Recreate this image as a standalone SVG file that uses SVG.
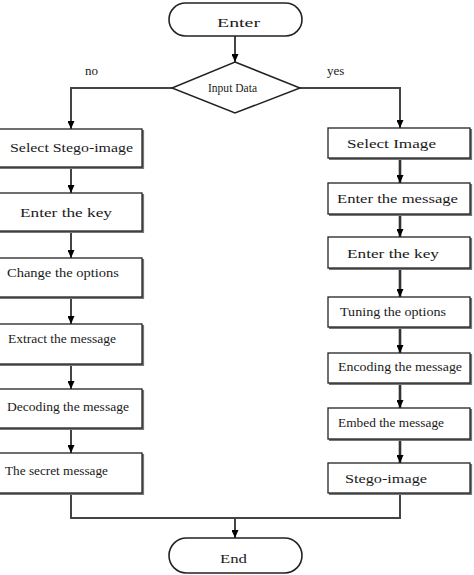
<svg xmlns="http://www.w3.org/2000/svg" width="474" height="575" viewBox="0 0 474 575">
<defs>
<marker id="ah" markerUnits="userSpaceOnUse" markerWidth="8" markerHeight="7" refX="8" refY="3.5" orient="auto">
<path d="M0,0 L8,3.5 L0,7 Z" fill="#000"/>
</marker>
<style>
.box{fill:#fff;stroke:#222;stroke-width:1.3}
.shd{fill:none;stroke:#777;stroke-width:2.2}
.term{fill:#fff;stroke:#222;stroke-width:1.6}
.t{font-family:"Liberation Serif","Times New Roman",serif;fill:#1a1a1a;font-size:13px}
.c{fill:none;stroke:#444;stroke-width:2}
.cr{fill:none;stroke:#333;stroke-width:2.6}
.ca{marker-end:url(#ah)}
</style>
</defs>
<g id="connectors">
<line class="c ca" x1="235" y1="36" x2="235" y2="62"/>
<polyline class="c ca" points="172,88 71,88 71,129"/>
<polyline class="c ca" points="300,88 400,88 400,128"/>
<line class="c ca" x1="71" y1="168" x2="71" y2="193"/>
<line class="c ca" x1="71" y1="232" x2="71" y2="258"/>
<line class="c ca" x1="71" y1="298" x2="71" y2="324"/>
<line class="c ca" x1="71" y1="365" x2="71" y2="389"/>
<line class="c ca" x1="71" y1="429" x2="71" y2="453"/>
<line class="cr ca" x1="400" y1="159" x2="400" y2="183"/>
<line class="cr ca" x1="400" y1="215" x2="400" y2="237"/>
<line class="cr ca" x1="400" y1="269" x2="400" y2="297"/>
<line class="cr ca" x1="400" y1="328" x2="400" y2="353"/>
<line class="cr ca" x1="400" y1="384" x2="400" y2="408"/>
<line class="cr ca" x1="400" y1="440" x2="400" y2="463"/>
<polyline class="c" points="71,494 71,518 400,518 400,494"/>
<line class="c ca" x1="235" y1="518" x2="235" y2="538"/>
</g>
<g id="enter">
<rect class="term" x="169" y="3" width="133" height="33" rx="16.5"/>
<text class="t" x="217" y="27" font-size="20" textLength="43" lengthAdjust="spacingAndGlyphs">Enter</text>
</g>
<g id="decision">
<polygon points="235,62 300,88 235,113 172,88" fill="#fff" stroke="#222" stroke-width="1.5"/>
<text class="t" x="208" y="92" font-size="8" textLength="49" lengthAdjust="spacingAndGlyphs">Input Data</text>
</g>
<g id="label-no"><text class="t" x="85" y="75" font-size="12">no</text></g>
<g id="label-yes"><text class="t" x="327" y="75" font-size="12">yes</text></g>

<g id="select-stego">
<polyline class="shd" points="143,130 143,168 0,168"/>
<rect class="box" x="-2" y="129" width="144" height="38"/>
<text class="t" x="10" y="152" textLength="123" lengthAdjust="spacingAndGlyphs">Select Stego-image</text>
</g>
<g id="enter-key-l">
<polyline class="shd" points="143,194 143,232 0,232"/>
<rect class="box" x="-2" y="193" width="144" height="38"/>
<text class="t" x="20" y="217" textLength="92" lengthAdjust="spacingAndGlyphs">Enter the key</text>
</g>
<g id="change-options">
<polyline class="shd" points="143,259 143,298 0,298"/>
<rect class="box" x="-2" y="258" width="144" height="39"/>
<text class="t" x="7" y="277" font-size="12" textLength="112" lengthAdjust="spacingAndGlyphs">Change the options</text>
</g>
<g id="extract">
<polyline class="shd" points="143,325 143,365 0,365"/>
<rect class="box" x="-2" y="324" width="144" height="40"/>
<text class="t" x="8" y="343" font-size="11" textLength="108" lengthAdjust="spacingAndGlyphs">Extract the message</text>
</g>
<g id="decoding">
<polyline class="shd" points="143,390 143,429 0,429"/>
<rect class="box" x="-2" y="389" width="144" height="39"/>
<text class="t" x="7" y="411" font-size="12" textLength="122" lengthAdjust="spacingAndGlyphs">Decoding the message</text>
</g>
<g id="secret">
<polyline class="shd" points="143,454 143,494 0,494"/>
<rect class="box" x="-2" y="453" width="144" height="40"/>
<text class="t" x="5" y="475" font-size="11" textLength="103" lengthAdjust="spacingAndGlyphs">The secret message</text>
</g>

<g id="select-image">
<polyline class="shd" points="471,129 471,159 329,159"/>
<rect class="box" x="328" y="128" width="142" height="30"/>
<text class="t" x="347" y="148" textLength="89" lengthAdjust="spacingAndGlyphs">Select  Image</text>
</g>
<g id="enter-message">
<polyline class="shd" points="471,184 471,215 329,215"/>
<rect class="box" x="328" y="183" width="142" height="31"/>
<text class="t" x="337" y="203" textLength="121" lengthAdjust="spacingAndGlyphs">Enter the message</text>
</g>
<g id="enter-key-r">
<polyline class="shd" points="471,238 471,269 329,269"/>
<rect class="box" x="328" y="237" width="142" height="31"/>
<text class="t" x="347" y="258" textLength="92" lengthAdjust="spacingAndGlyphs">Enter the key</text>
</g>
<g id="tuning">
<polyline class="shd" points="471,298 471,328 329,328"/>
<rect class="box" x="328" y="297" width="142" height="30"/>
<text class="t" x="340" y="316" font-size="12" textLength="106" lengthAdjust="spacingAndGlyphs">Tuning the options</text>
</g>
<g id="encoding">
<polyline class="shd" points="471,354 471,384 329,384"/>
<rect class="box" x="328" y="353" width="142" height="30"/>
<text class="t" x="338" y="371" font-size="12" textLength="124" lengthAdjust="spacingAndGlyphs">Encoding the message</text>
</g>
<g id="embed">
<polyline class="shd" points="471,409 471,440 329,440"/>
<rect class="box" x="328" y="408" width="142" height="31"/>
<text class="t" x="338" y="427" font-size="12" textLength="106" lengthAdjust="spacingAndGlyphs">Embed the message</text>
</g>
<g id="stego-image">
<polyline class="shd" points="471,464 471,494 329,494"/>
<rect class="box" x="328" y="463" width="142" height="30"/>
<text class="t" x="345" y="483" textLength="82" lengthAdjust="spacingAndGlyphs">Stego-image</text>
</g>

<g id="end">
<rect class="term" x="169" y="538" width="133" height="35" rx="17.5"/>
<text class="t" x="220" y="563" font-size="17" textLength="27" lengthAdjust="spacingAndGlyphs">End</text>
</g>
</svg>
